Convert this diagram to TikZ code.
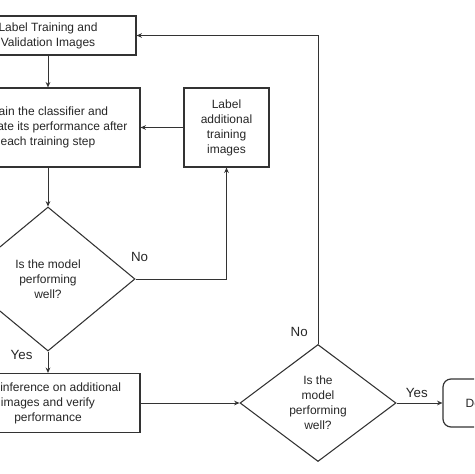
\documentclass[tikz,border=0pt]{standalone}
\usepackage{fontspec}
\setmainfont{Liberation Sans}
\usetikzlibrary{positioning,shapes.geometric,arrows.meta}

\begin{document}
\begin{tikzpicture}[x=0.75pt, y=-0.75pt,
  every node/.style={font=\fontsize{9}{11.25}\selectfont, text=black!85},
  box/.style={rectangle, draw=black!80, line width=0.9pt, align=center, inner sep=0pt},
  ask/.style={diamond, draw=black!80, line width=0.8pt, align=center, inner sep=0pt, aspect=1.3},
  flow/.style={draw=black!80, line width=0.7pt, -{Stealth[length=4pt,width=3.5pt]}},
  tag/.style={font=\fontsize{10}{12}\selectfont}]
\useasboundingbox (0,0) rectangle (474,474);
\clip (0,0) rectangle (474,474);

\node[box, minimum width=132pt, minimum height=29.25pt] (lbl) at (48,35.5) {Label Training and\\Validation Images};
\node[box, minimum width=138pt, minimum height=59.25pt] (train) at (48,127.5) {Train the classifier and\\evaluate its performance after\\each training step};
\node[box, minimum width=63.75pt, minimum height=59.25pt] (more) at (226.5,127.5) {Label\\additional\\training\\images};
\node[ask, minimum width=130.5pt, minimum height=108pt] (ok1) at (48,279) {Is the model\\performing\\well?};
\node[box, minimum width=138pt, minimum height=44.25pt] (infer) at (48,403) {Run inference on additional\\images and verify\\performance};
\node[ask, minimum width=117pt, minimum height=87.75pt] (ok2) at (318,403) {Is the\\model\\performing\\well?};
\node[box, rounded corners=6pt, minimum width=55.5pt, minimum height=36pt] (done) at (480,403) {Done};

\draw[flow] (lbl) -- (train);
\draw[flow] (more) -- (train);
\draw[flow] (train) -- (ok1);
\draw[flow] (ok1.east) -| node[tag, at start, above=9pt, xshift=3pt] {No} (more);
\draw[flow] (ok1) -- node[tag, at start, anchor=north east, xshift=-8pt, yshift=4.5pt] {Yes} (infer);
\draw[flow] (infer) -- (ok2);
\draw[flow] (ok2) -- node[tag, above, xshift=-2pt] {Yes} (done);
\draw[flow] (ok2.north) |- node[tag, at start, anchor=south east, xshift=-4pt, yshift=2pt] {No} (lbl);
\end{tikzpicture}
\end{document}
